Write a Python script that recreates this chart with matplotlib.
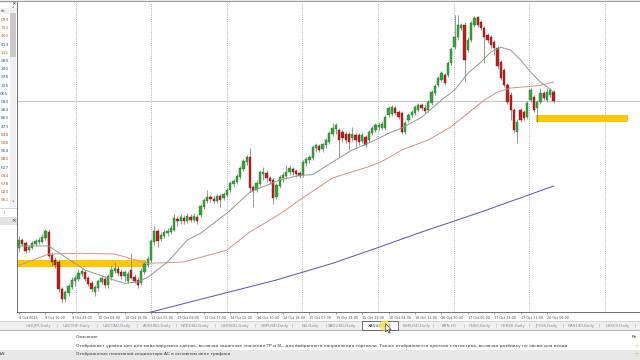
#!/usr/bin/env python3
"""
Скриншот MT4: XAUUSD,H1 со свечами, тремя MA и зонами.
"""
import numpy as np
import matplotlib
matplotlib.use("Agg")
import matplotlib.pyplot as plt
from matplotlib.patches import Rectangle, Circle, Polygon

# --- Данные свечей (цены читались с картинки) ---
opens = [
    4028, 4040, 4036, 4025, 4028, 4034, 4037, 4037, 4043, 4052,
    4018, 4010, 4007, 3967, 3952, 3961, 3970, 3979, 3982, 3989,
    3992, 3983, 3976, 3962, 3968, 3977, 3982, 3973, 3985, 3994,
    3997, 3992, 3986, 3979, 3995, 3985, 3980, 3976, 3992, 4003,
    4010, 4037, 4054, 4042, 4046, 4051, 4052, 4055, 4072, 4069,
    4073, 4069, 4075, 4070, 4075, 4078, 4090, 4099, 4105, 4102,
    4099, 4106, 4103, 4108, 4115, 4124, 4127, 4135, 4147, 4157,
    4165, 4120, 4115, 4124, 4139, 4141, 4133, 4130, 4105, 4121,
    4133, 4136, 4142, 4147, 4144, 4141, 4138, 4156, 4160, 4163,
    4178, 4181, 4177, 4183, 4187, 4199, 4207, 4205, 4202, 4199,
    4199, 4193, 4198, 4198, 4189, 4195, 4190, 4201, 4205, 4210,
    4208, 4208, 4228, 4229, 4238, 4232, 4231, 4202, 4220, 4228,
    4231, 4235, 4243, 4238, 4235, 4246, 4261, 4272, 4280, 4288,
    4288, 4306, 4330, 4345, 4358, 4363, 4325, 4340, 4363, 4375,
    4367, 4358, 4348, 4345, 4337, 4328, 4307, 4295, 4273, 4258,
    4235, 4202, 4235, 4232, 4225, 4250, 4255, 4238, 4247, 4261,
    4250, 4258, 4262,
]
closes = [
    4040, 4034, 4024, 4030, 4036, 4039, 4040, 4045, 4054, 4016,
    4007, 4003, 3967, 3952, 3962, 3971, 3980, 3983, 3991, 3994,
    3982, 3974, 3967, 3970, 3979, 3983, 3973, 3986, 3995, 3998,
    3991, 3986, 3992, 3989, 3983, 3979, 3973, 3994, 4004, 4012,
    4039, 4054, 4039, 4048, 4052, 4054, 4058, 4073, 4069, 4075,
    4069, 4076, 4070, 4076, 4069, 4091, 4100, 4105, 4102, 4099,
    4106, 4100, 4109, 4115, 4126, 4129, 4136, 4148, 4159, 4165,
    4118, 4114, 4126, 4142, 4142, 4133, 4129, 4103, 4123, 4135,
    4138, 4142, 4148, 4142, 4139, 4136, 4157, 4162, 4165, 4180,
    4183, 4175, 4184, 4190, 4200, 4208, 4213, 4190, 4193, 4190,
    4187, 4199, 4190, 4187, 4198, 4183, 4202, 4208, 4213, 4213,
    4214, 4225, 4238, 4240, 4231, 4225, 4202, 4216, 4228, 4232,
    4240, 4243, 4238, 4234, 4247, 4262, 4271, 4283, 4291, 4276,
    4306, 4327, 4345, 4363, 4363, 4310, 4340, 4366, 4373, 4363,
    4358, 4345, 4340, 4333, 4328, 4301, 4283, 4273, 4247, 4235,
    4205, 4217, 4220, 4223, 4246, 4265, 4235, 4247, 4261, 4253,
    4262, 4265, 4249,
]
highs = [
    4046, 4043, 4039, 4033, 4039, 4042, 4045, 4049, 4057, 4057,
    4022, 4015, 4010, 3970, 3965, 3974, 3985, 3988, 3997, 3998,
    3995, 3986, 3979, 3973, 3982, 3986, 3986, 3989, 4001, 4007,
    4001, 3997, 3995, 3994, 4020, 3989, 3985, 3998, 4009, 4016,
    4042, 4061, 4057, 4052, 4057, 4058, 4063, 4079, 4076, 4079,
    4078, 4081, 4079, 4081, 4079, 4094, 4103, 4115, 4108, 4106,
    4109, 4109, 4112, 4118, 4129, 4132, 4139, 4151, 4162, 4168,
    4178, 4123, 4130, 4145, 4150, 4145, 4136, 4133, 4126, 4138,
    4142, 4153, 4153, 4150, 4147, 4144, 4160, 4165, 4168, 4183,
    4186, 4184, 4186, 4193, 4204, 4216, 4216, 4208, 4205, 4204,
    4202, 4210, 4201, 4201, 4201, 4198, 4205, 4211, 4216, 4217,
    4219, 4228, 4241, 4243, 4241, 4235, 4234, 4219, 4231, 4235,
    4243, 4246, 4246, 4244, 4250, 4265, 4274, 4286, 4294, 4291,
    4309, 4330, 4378, 4378, 4366, 4367, 4345, 4369, 4376, 4376,
    4370, 4361, 4351, 4348, 4340, 4331, 4310, 4298, 4276, 4262,
    4238, 4222, 4238, 4235, 4249, 4268, 4258, 4250, 4268, 4264,
    4268, 4268, 4265,
]
lows = [
    4022, 4031, 4021, 4022, 4027, 4031, 4034, 4035, 4040, 4013,
    4001, 3998, 3962, 3946, 3947, 3956, 3967, 3971, 3979, 3986,
    3979, 3971, 3962, 3956, 3964, 3974, 3968, 3968, 3980, 3991,
    3986, 3982, 3979, 3976, 3982, 3976, 3968, 3973, 3989, 4000,
    4007, 4033, 4030, 4039, 4043, 4046, 4049, 4054, 4061, 4064,
    4064, 4066, 4067, 4067, 4064, 4075, 4087, 4096, 4097, 4096,
    4096, 4090, 4100, 4105, 4112, 4120, 4124, 4132, 4144, 4153,
    4112, 4090, 4112, 4121, 4130, 4127, 4124, 4094, 4102, 4118,
    4127, 4132, 4138, 4138, 4135, 4133, 4135, 4151, 4156, 4160,
    4172, 4172, 4172, 4178, 4184, 4196, 4199, 4163, 4187, 4186,
    4175, 4189, 4180, 4183, 4186, 4180, 4187, 4198, 4202, 4205,
    4205, 4205, 4225, 4226, 4228, 4222, 4199, 4199, 4217, 4225,
    4228, 4232, 4235, 4231, 4232, 4243, 4258, 4270, 4277, 4273,
    4285, 4303, 4327, 4340, 4355, 4277, 4322, 4337, 4360, 4360,
    4355, 4306, 4336, 4328, 4318, 4297, 4280, 4270, 4244, 4220,
    4200, 4186, 4217, 4219, 4222, 4247, 4232, 4217, 4244, 4250,
    4247, 4255, 4246,
]

# Подписи оси времени (каждые 8 баров)
time_labels = [
    "9 Oct 2025", "9 Oct 15:00", "9 Oct 23:00", "10 Oct 08:00", "10 Oct 16:00",
    "13 Oct 01:00", "13 Oct 09:00", "13 Oct 17:00", "14 Oct 02:00", "14 Oct 10:00",
    "14 Oct 18:00", "15 Oct 03:00", "15 Oct 11:00", "15 Oct 19:00", "16 Oct 04:00",
    "16 Oct 12:00", "16 Oct 20:00", "17 Oct 05:00", "17 Oct 13:00", "17 Oct 21:00",
    "20 Oct 06:00",
]

ma_fast_bars = [0, 9, 20, 28, 32, 36, 39, 45, 51, 55, 61, 63, 70, 79, 85, 89, 95,
                101, 108, 112, 116, 122, 128, 132, 136, 140, 143, 146, 149, 152,
                155, 158, 161, 162]
ma_fast = [4031, 4031, 3995, 3981, 3975, 3977, 3984, 4007, 4040, 4050, 4073, 4080,
           4112, 4130, 4137, 4138, 4157, 4175, 4190, 4200, 4208, 4224, 4250, 4265,
           4290, 4307, 4322, 4329, 4325, 4310, 4292, 4277, 4266, 4262]

ma_mid_bars = [0, 9, 19, 29, 39, 50, 55, 61, 63, 70, 80, 85, 95, 106, 110, 116,
               124, 131, 136, 141, 145, 149, 154, 158, 162]
ma_mid = [4002, 4019, 4020, 4019, 4005, 4007, 4014, 4022, 4025, 4052, 4082, 4100,
          4133, 4150, 4158, 4175, 4190, 4210, 4230, 4250, 4262, 4268, 4270, 4272, 4277]

ma_slow_bars = [0, 40, 55, 78, 95, 109, 122, 140, 162]
ma_slow = [3890, 3932, 3951, 3980, 4005, 4029, 4052, 4082, 4121]

# Жёлтые зоны: начало/конец (бар) и границы цены
zone_start = [-1, 156.7]
zone_end = [38.5, 184.5]
zone_low = [3999.5, 4217]
zone_high = [4010, 4227.5]

# Обзор рынка (обрезанные котировки)
mw_quotes = ["074", "751", "400", "413", "111", "289", "330", "378", "305", "065",
             "030", "284", "862", "473", "848", "588", "564", "880", "617", "034",
             "578", "020", "561"]
mw_down = [1, 1, 1, 0, 1, 0, 0, 0, 0, 0, 0, 0, 0, 0, 1, 1, 0, 1, 0, 1, 1, 1, 1]

tabs = ["USDJPY,Daily", "USDCHF,Daily", "USDCAD,Daily", "AUDUSD,Daily", "NZDUSD,Daily",
        "USDSGD,Daily", "GBPUSD,Daily", "NG,Daily", "XAGUSD,Daily", "XAUUSD,H1",
        "EURUSD,Daily", "BRN,H1", "CN50,Daily", "GER40,Daily", "JP225,Daily",
        "NAS100,Daily", "US500,Daily"]
active_tab = "XAUUSD,H1"

desc_header = "Описание"
desc_rows = [
    "Отображает уровни цен для моделируемых сделок, включая заданные значения TP и SL, "
    "для выбранного направления торговли. Также отображается краткая статистика, "
    "включая разбивку по часам для входа.",
    "Отображение показаний индикатора AC в основном окне графика",
]

# --- Оформление ---
BULL = "#38a438"
BULL_EDGE = "#2a742a"
BEAR = "#b3231f"
BEAR_EDGE = "#7c1614"
WICK = "#6e6e6e"
W, H = 640, 360
PX_PER_BAR = 3.3
X0 = 19            # пиксель первого бара
CHART_TOP, CHART_BOTTOM, CHART_LEFT = 2, 312, 17


def draw_chart(ax):
    """Свечи, MA, зоны, сетка."""
    idx = np.arange(len(closes))
    o = np.array(opens, float)
    c = np.array(closes, float)
    up = c >= o

    for s, e, lo, hi in zip(zone_start, zone_end, zone_low, zone_high):
        ax.add_patch(Rectangle((s, lo), e - s, hi - lo, facecolor="#fdc70a",
                               edgecolor="none", zorder=1))

    ax.axhline(closes[-1], color="#c4c4c4", lw=0.7, zorder=1)

    ax.vlines(idx, lows, highs, colors=WICK, linewidth=0.5, zorder=3)
    body_lo = np.minimum(o, c)
    body_h = np.maximum(np.abs(c - o), 0.8)
    ax.bar(idx, body_h, bottom=body_lo, width=0.72,
           color=np.where(up, BULL, BEAR), edgecolor=np.where(up, BULL_EDGE, BEAR_EDGE),
           linewidth=0.3, zorder=4)

    ax.plot(ma_slow_bars, ma_slow, color="#4c58ab", lw=0.7, zorder=5)
    ax.plot(ma_mid_bars, ma_mid, color="#d3928a", lw=0.7, zorder=5)
    ax.plot(ma_fast_bars, ma_fast, color="#8e9a8e", lw=0.7, zorder=5)

    # вертикальная сетка (через каждые ~23 бара)
    for g in np.arange(17.2, 190, 22.9):
        ax.axvline(g, color="#9a9a9a", lw=0.6, ls=(0, (1, 1.6)), zorder=0)

    ax.set_xlim((CHART_LEFT - X0) / PX_PER_BAR, (W - X0) / PX_PER_BAR)
    ax.set_ylim(4400 - 1.5 * CHART_BOTTOM, 4400 - 1.5 * CHART_TOP)

    ax.set_xticks(np.arange(len(time_labels)) * 8)
    ax.set_xticklabels(time_labels, fontsize=2.4, ha="left", color="#303030")
    ax.tick_params(axis="x", length=1.5, width=0.4, pad=1.2, colors="#505050")
    ax.set_yticks([])
    for side in ("top", "right"):
        ax.spines[side].set_visible(False)
    for side in ("left", "bottom"):
        ax.spines[side].set_color("#5a5a5a")
        ax.spines[side].set_linewidth(0.6)


def draw_ui(ui):
    """Окружение терминала: обзор рынка, вкладки, нижняя панель."""
    def txt(x, y, s, size=3.2, color="#303030", **kw):
        ui.text(x, y, s, fontsize=size, color=color, va="center", **kw)

    ui.plot([0, W], [0.6, 0.6], color="#9c9c9c", lw=1.0)

    # обзор рынка
    ui.add_patch(Rectangle((0, 7.5), 16.5, 6.5, facecolor="#f3f3f3", edgecolor="none"))
    txt(0.3, 10.8, "ck", 3.0)
    txt(13.2, 3.4, "×", 4.0, ha="center")
    ui.add_patch(Rectangle((9.6, 7.5), 6.6, 199, facecolor="#efefef", edgecolor="none"))
    ui.add_patch(Rectangle((10.3, 13), 5.2, 44, facecolor="#c9c9c9", edgecolor="none"))
    txt(12.9, 10.0, "˄", 3.5, ha="center")
    txt(12.9, 203.5, "˅", 3.5, ha="center")
    for k, (q, dn) in enumerate(zip(mw_quotes, mw_down)):
        txt(8.6, 20 + 8.2 * k, q, 3.2, "#c2622a" if dn else "#3a58a4", ha="right")
    ui.plot([0, 16.5], [207.5, 207.5], color="#c8c8c8", lw=0.5)
    txt(4, 212, "|", 3.0, "#808080")
    ui.add_patch(Rectangle((0, 217), 16.5, 8, facecolor="#e3e3e3", edgecolor="none"))
    txt(13.2, 221, "×", 4.0, ha="center")

    # заголовок графика
    txt(20.3, 4.6, "▾ XAUUSD,H1", 3.0, "#2a2a2a")

    # вкладки
    ui.add_patch(Rectangle((0, 320.5), W, 9.5, facecolor="#f0f0f0", edgecolor="none"))
    ui.plot([0, W], [320.5, 320.5], color="#c9c9c9", lw=0.5)
    ui.plot([0, W], [330, 330], color="#a8a8a8", lw=0.6)
    centers = [38, 77, 117, 157, 195, 235, 275, 310, 342, 380,
               417, 449, 480, 513, 546, 581, 618]
    for k, (name, cx) in enumerate(zip(tabs, centers)):
        if name == active_tab:
            ui.add_patch(Rectangle((362, 321), 36, 9, facecolor="white",
                                   edgecolor="#3a3a3a", lw=0.5, zorder=2))
            txt(cx, 325.8, name, 2.9, "#202020", ha="center", zorder=3)
        else:
            txt(cx, 325.8, name, 2.9, "#7d8894", ha="center")
        if k + 1 < len(centers) and tabs[k + 1] != active_tab and name != active_tab:
            txt((cx + centers[k + 1]) / 2, 325.6, "|", 3.0, "#9a9a9a", ha="center")
    txt(635, 325.6, "|", 3.0, "#9a9a9a", ha="center")

    # нижняя панель
    ui.add_patch(Rectangle((0, 349.5), W, 10.5, facecolor="#e8e8e8", edgecolor="none"))
    txt(76, 337, desc_header, 3.2, "#383838")
    txt(76, 345.5, desc_rows[0], 3.15, "#303030")
    txt(76, 354.3, desc_rows[1], 3.15, "#303030")
    txt(0, 354.3, "IW", 3.2, "#303030")
    txt(632, 337, "Ре", 3.2, "#303030")
    txt(636.5, 346, "☆", 3.4, "#d9a02a", ha="center")
    txt(636.5, 354.3, "☆", 3.4, "#d9a02a", ha="center")

    # курсор мыши
    ui.add_patch(Circle((384.5, 325.5), 5.2, facecolor="#ffe35a", alpha=0.85,
                        edgecolor="none", zorder=4))
    ui.add_patch(Polygon([(385.5, 323.5), (385.5, 332), (387.3, 330.2),
                          (389, 333.2), (390.2, 332.6), (388.6, 329.6), (391, 329.4)],
                         closed=True, facecolor="white", edgecolor="#111111",
                         lw=0.4, zorder=5))


def main():
    """Точка входа."""
    plt.rcParams["font.family"] = ["DejaVu Sans"]
    fig = plt.figure(figsize=(W / 100, H / 100), dpi=100, facecolor="white")

    ui = fig.add_axes([0, 0, 1, 1], zorder=0)
    ui.set_xlim(0, W)
    ui.set_ylim(H, 0)
    ui.axis("off")

    ax = fig.add_axes([CHART_LEFT / W, 1 - CHART_BOTTOM / H,
                       (W - CHART_LEFT) / W, (CHART_BOTTOM - CHART_TOP) / H], zorder=1)
    ax.set_facecolor("white")

    draw_chart(ax)
    draw_ui(ui)

    fig.savefig("out.png", dpi=100)
    return 0


if __name__ == "__main__":
    main()
